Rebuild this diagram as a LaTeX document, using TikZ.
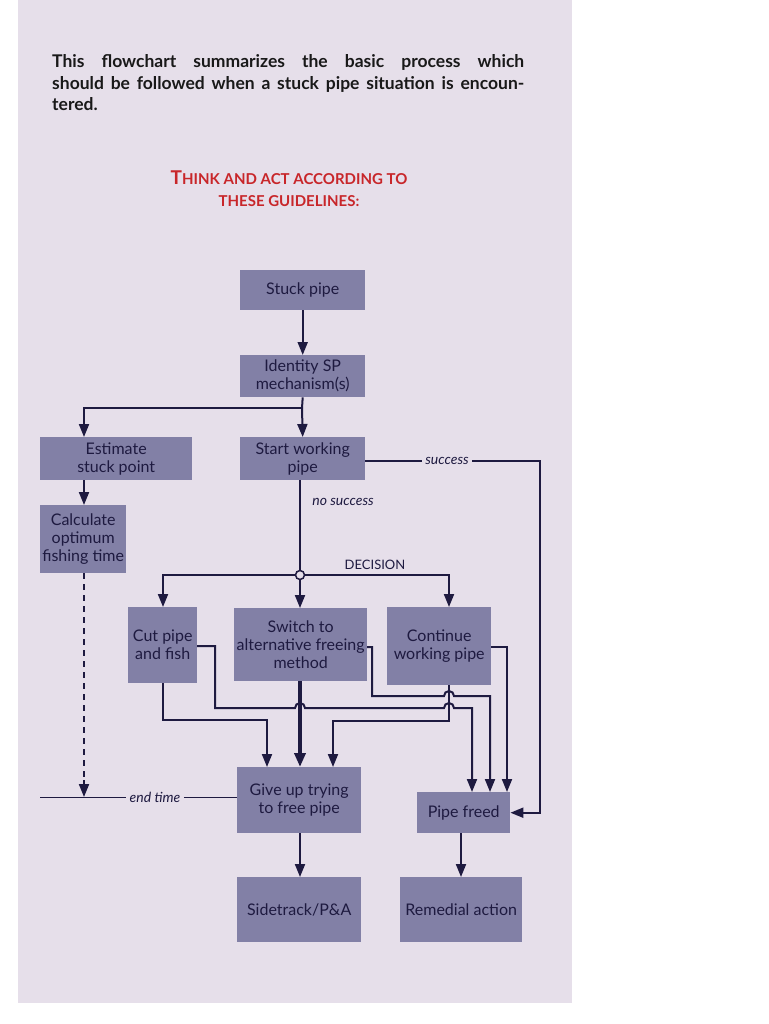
\documentclass[tikz,border=0pt]{standalone}
\usepackage{fontspec}
\setmainfont{Lato}
\usetikzlibrary{arrows.meta}
\definecolor{paper}{HTML}{E6DFEA}
\definecolor{boxc}{HTML}{8280A6}
\definecolor{ink}{HTML}{1E1A40}
\definecolor{redh}{HTML}{C8262A}
\tikzset{
  box/.style={fill=boxc,text=ink,align=center,inner sep=0pt,font=\fontsize{16}{18}\selectfont,anchor=north west},
  ln/.style={draw=ink,line width=2pt},
  arr/.style={ln,-{Triangle[length=13pt,width=10pt]}},
  lbl/.style={text=ink,font=\itshape\fontsize{14}{16}\selectfont},
  intro/.style={anchor=base west,inner sep=0pt,text=black!90,font=\bfseries\fontsize{17.5}{21.5}\selectfont},
}
\newcommand{\bx}[6]{\node[box,minimum width=#4pt-#2pt,minimum height=#5pt-#3pt] (#1) at (#2,#3) {#6};}
\begin{document}
\begin{tikzpicture}[x=1pt,y=-1pt]
\useasboundingbox (0,0) rectangle (768,1024);
\fill[paper] (18,0) rectangle (572,1003);
\node[intro] (i1) at (52,68) {\makebox[472pt][s]{This flowchart summarizes the basic process which}};
\node[intro] (i2) at (52,90) {\makebox[472pt][s]{should be followed when a stuck pipe situation is encoun-}};
\node[intro] (i3) at (52,111) {tered.};
\node[text=redh,align=center,font=\bfseries\fontsize{15}{22}\selectfont] (head) at (289,189) {{\fontsize{19}{22}\selectfont T}HINK AND ACT ACCORDING TO\\THESE GUIDELINES:};
\bx{stuck}{240}{270}{365}{310}{Stuck pipe}
\bx{ident}{240}{355}{365}{397}{Identity SP\\mechanism(s)}
\bx{est}{40}{437}{192}{480}{Estimate\\stuck point}
\bx{start}{240}{437}{365}{480}{Start working\\pipe}
\bx{calc}{40}{505}{126}{573}{Calculate\\optimum\\fishing time}
\bx{cut}{128}{607}{197}{683}{Cut pipe\\and fish}
\bx{sw}{234}{608}{367}{681}{Switch to\\alternative freeing\\method}
\bx{cont}{387}{607}{491}{685}{Continue\\working pipe}
\bx{give}{237}{767}{361}{833}{Give up trying\\to free pipe}
\bx{freed}{417}{792}{510}{833}{Pipe freed}
\bx{side}{237}{877}{361}{942}{Sidetrack/P\&A}
\bx{rem}{400}{877}{522}{942}{Remedial action}
% top
\draw[arr] (stuck.south) -- (ident.north);
\coordinate (j1) at (302,408);
\draw[ln] (ident.south) -- (j1);
\draw[arr] (j1) -- (start.north);
\draw[arr] (j1) -| (est.north -| 84,0);
\draw[arr] (est.south -| 84,0) -- (calc.north -| 84,0);
% success
\node[lbl] (succ) at (447,461) {success};
\draw[ln] (start.east |- succ) -- (succ.west);
\draw[arr] (succ.east) -- (540,461) |- (freed.east);
% decision
\node[lbl] (nos) at (343,502) {no success};
\node[text=ink,font=\fontsize{13}{15}\selectfont] (dec) at (375,565) {DECISION};
\coordinate (dc) at (300,575);
\draw[ln] (start.south -| 300,0) -- ([yshift=-4pt]dc);
\draw[arr] (296,575) -| (cut.north -| 163,0);
\draw[arr] (304,575) -| (cont.north -| 449,0);
\draw[arr] (300,579) -- (sw.north -| 300,0);
\draw[draw=ink,line width=1.5pt,fill=paper] (dc) circle (4.5);
% calc to end time
\draw[ln,dashed,dash pattern=on 6pt off 5pt] (calc.south -| 84,0) -- (84,785);
\draw[arr] (84,780) -- (84,797);
\node[lbl] (endt) at (155,797) {end time};
\draw[draw=ink,line width=0.8pt] (40,797) -- (endt.west);
\draw[draw=ink,line width=0.8pt] (endt.east) -- (give.west |- endt);
% middle
\draw[arr] (cut.south -| 163,0) |- (267,720) -- (give.north -| 267,0);
\draw[arr] (cont.south -| 449,0) |- (333,721) -- (give.north -| 333,0);
\draw[ln,-{Triangle[length=14pt,width=11pt]},line width=3.5pt] (sw.south -| 300,0) -- (give.north -| 300,0);
\draw[arr] (197,646) -- (215,646) -- (215,708) -- (295,708) arc[start angle=180,end angle=360,radius=5] -- (444,708) arc[start angle=180,end angle=360,radius=5] -- (472,708) -- (freed.north -| 472,0);
\draw[arr] (367,647) -- (372,647) -- (372,696) -- (444,696) arc[start angle=180,end angle=360,radius=5] -- (490,696) -- (freed.north -| 490,0);
\draw[arr] (491,647) -- (507,647) -- (freed.north -| 507,0);
% bottom
\draw[arr] (give.south -| 300,0) -- (side.north -| 300,0);
\draw[arr] (freed.south -| 461,0) -- (rem.north -| 461,0);
\end{tikzpicture}
\end{document}
